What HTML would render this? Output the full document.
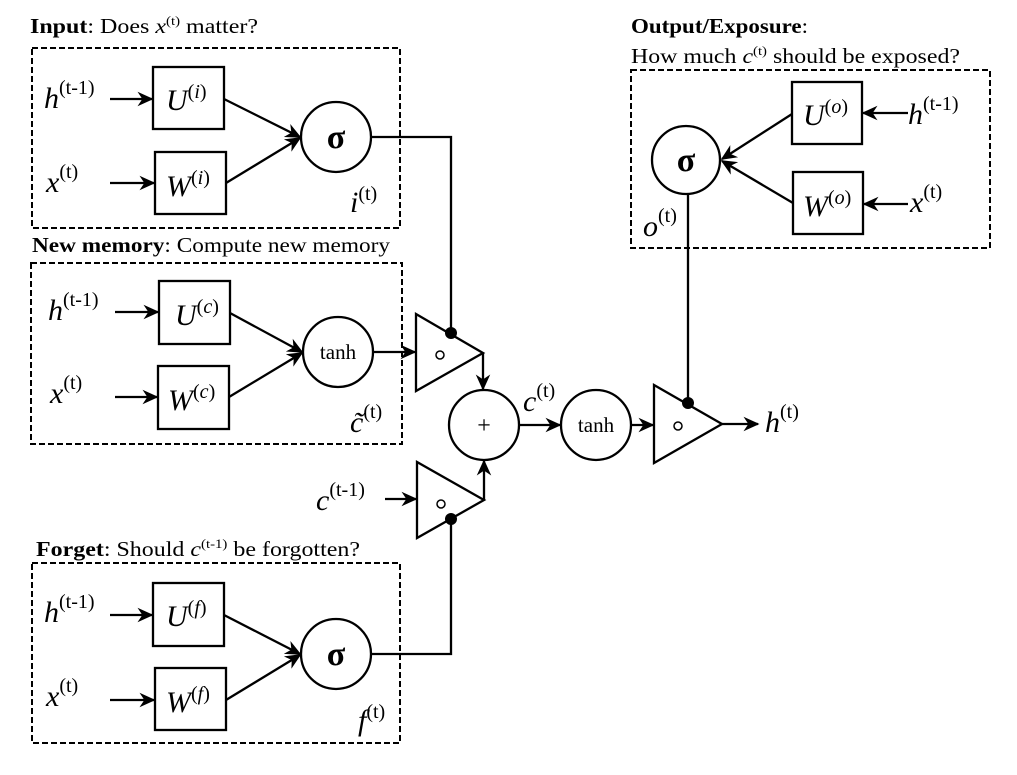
<!DOCTYPE html>
<html><head><meta charset="utf-8"><style>
body{margin:0;background:#fff}
svg{display:block}
text{font-family:"Liberation Serif",serif;fill:#000}
.m{font-style:italic}
</style></head><body>
<svg width="1017" height="775" viewBox="0 0 1017 775">
<defs>
<marker id="a" viewBox="0 0 10 10" refX="9" refY="5" markerWidth="7" markerHeight="7" orient="auto"><path d="M0,0.5 L10,5 L0,9.5 L3,5 z" fill="#000"/></marker>
</defs>
<g fill="none" stroke="#000" stroke-width="2.3">
<rect x="32" y="48" width="368" height="180" stroke-dasharray="6,3" stroke-width="2"/>
<rect x="31" y="263" width="371" height="181" stroke-dasharray="6,3" stroke-width="2"/>
<rect x="32" y="563" width="368" height="180" stroke-dasharray="6,3" stroke-width="2"/>
<rect x="631" y="70" width="359" height="178" stroke-dasharray="6,3" stroke-width="2"/>
<rect x="153" y="67" width="71" height="62"/>
<rect x="155" y="152" width="71" height="62"/>
<circle cx="336" cy="137" r="35"/>
<line x1="110" y1="99" x2="152" y2="99" marker-end="url(#a)"/>
<line x1="110" y1="183" x2="154" y2="183" marker-end="url(#a)"/>
<line x1="224" y1="99" x2="300" y2="137" marker-end="url(#a)"/>
<line x1="226" y1="183" x2="300" y2="138" marker-end="url(#a)"/>
<polyline points="371,137 451,137 451,333"/>
<rect x="159" y="281" width="71" height="63"/>
<rect x="158" y="366" width="71" height="63"/>
<circle cx="338" cy="352" r="35"/>
<line x1="115" y1="312" x2="158" y2="312" marker-end="url(#a)"/>
<line x1="115" y1="397" x2="157" y2="397" marker-end="url(#a)"/>
<line x1="230" y1="313" x2="302" y2="352" marker-end="url(#a)"/>
<line x1="229" y1="397" x2="302" y2="353" marker-end="url(#a)"/>
<line x1="373" y1="352" x2="415" y2="352" marker-end="url(#a)"/>
<rect x="153" y="583" width="71" height="63"/>
<rect x="155" y="668" width="71" height="62"/>
<circle cx="336" cy="654" r="35"/>
<line x1="110" y1="615" x2="152" y2="615" marker-end="url(#a)"/>
<line x1="110" y1="700" x2="154" y2="700" marker-end="url(#a)"/>
<line x1="224" y1="615" x2="300" y2="654" marker-end="url(#a)"/>
<line x1="226" y1="700" x2="300" y2="655" marker-end="url(#a)"/>
<polyline points="371,654 451,654 451,519"/>
<polygon points="416,314 416,391 483,353"/>
<polygon points="417,462 417,538 484,500"/>
<polygon points="654,385 654,463 722,424"/>
<circle cx="440" cy="355" r="4" stroke-width="1.5"/>
<circle cx="441" cy="504" r="4" stroke-width="1.5"/>
<circle cx="678" cy="426" r="4" stroke-width="1.5"/>
<line x1="483" y1="353" x2="483" y2="389" marker-end="url(#a)"/>
<line x1="484" y1="500" x2="484" y2="461" marker-end="url(#a)"/>
<line x1="385" y1="499" x2="416" y2="499" marker-end="url(#a)"/>
<circle cx="484" cy="425" r="35"/>
<line x1="519" y1="425" x2="560" y2="425" marker-end="url(#a)"/>
<circle cx="596" cy="425" r="35"/>
<line x1="631" y1="425" x2="653" y2="425" marker-end="url(#a)"/>
<line x1="722" y1="424" x2="758" y2="424" marker-end="url(#a)"/>
<rect x="792" y="82" width="70" height="62"/>
<rect x="793" y="172" width="70" height="62"/>
<circle cx="686" cy="160" r="34"/>
<line x1="908" y1="113" x2="863" y2="113" marker-end="url(#a)"/>
<line x1="908" y1="204" x2="864" y2="204" marker-end="url(#a)"/>
<line x1="792" y1="114" x2="722" y2="159" marker-end="url(#a)"/>
<line x1="793" y1="203" x2="722" y2="161" marker-end="url(#a)"/>
<line x1="688" y1="194" x2="688" y2="403"/>
</g>
<g fill="#000">
<circle cx="451" cy="333" r="6"/>
<circle cx="451" cy="519" r="6"/>
<circle cx="688" cy="403" r="6"/>
</g>
<text x="30" y="33" font-size="21" textLength="228" lengthAdjust="spacingAndGlyphs"><tspan font-weight="bold">Input</tspan>: Does <tspan class="m">x</tspan><tspan font-size="13" dy="-8">(t)</tspan><tspan dy="8"> matter?</tspan></text>
<text x="32" y="252" font-size="21" textLength="358" lengthAdjust="spacingAndGlyphs"><tspan font-weight="bold">New memory</tspan>: Compute new memory</text>
<text x="36" y="556" font-size="21" textLength="324" lengthAdjust="spacingAndGlyphs"><tspan font-weight="bold">Forget</tspan>: Should <tspan class="m">c</tspan><tspan font-size="13" dy="-8">(t-1)</tspan><tspan dy="8"> be forgotten?</tspan></text>
<text x="631" y="33" font-size="21" font-weight="bold" textLength="177" lengthAdjust="spacingAndGlyphs">Output/Exposure<tspan font-weight="normal">:</tspan></text>
<text x="631" y="63" font-size="21" textLength="329" lengthAdjust="spacingAndGlyphs">How much <tspan class="m">c</tspan><tspan font-size="13" dy="-8">(t)</tspan><tspan dy="8"> should be exposed?</tspan></text>
<g font-size="30">
<text x="44" y="108"><tspan class="m">h</tspan><tspan font-size="20" dy="-14">(t-1)</tspan></text>
<text x="46" y="192"><tspan class="m">x</tspan><tspan font-size="20" dy="-14">(t)</tspan></text>
<text x="166" y="110"><tspan class="m">U</tspan><tspan font-size="20" dy="-12">(<tspan class="m">i</tspan>)</tspan></text>
<text x="166" y="196"><tspan class="m">W</tspan><tspan font-size="20" dy="-12">(<tspan class="m">i</tspan>)</tspan></text>
<text x="350" y="212"><tspan class="m">i</tspan><tspan font-size="20" dy="-12">(t)</tspan></text>
<text x="48" y="320"><tspan class="m">h</tspan><tspan font-size="20" dy="-14">(t-1)</tspan></text>
<text x="50" y="403"><tspan class="m">x</tspan><tspan font-size="20" dy="-14">(t)</tspan></text>
<text x="175" y="325"><tspan class="m">U</tspan><tspan font-size="20" dy="-12">(<tspan class="m">c</tspan>)</tspan></text>
<text x="168" y="410"><tspan class="m">W</tspan><tspan font-size="20" dy="-12">(<tspan class="m">c</tspan>)</tspan></text>
<text x="350" y="432"><tspan class="m">c̃</tspan><tspan font-size="20" dy="-14">(t)</tspan></text>
<text x="44" y="622"><tspan class="m">h</tspan><tspan font-size="20" dy="-14">(t-1)</tspan></text>
<text x="46" y="706"><tspan class="m">x</tspan><tspan font-size="20" dy="-14">(t)</tspan></text>
<text x="166" y="626"><tspan class="m">U</tspan><tspan font-size="20" dy="-12">(<tspan class="m">f</tspan>)</tspan></text>
<text x="166" y="712"><tspan class="m">W</tspan><tspan font-size="20" dy="-12">(<tspan class="m">f</tspan>)</tspan></text>
<text x="358" y="730"><tspan class="m">f</tspan><tspan font-size="20" dy="-12">(t)</tspan></text>
<text x="316" y="510"><tspan class="m">c</tspan><tspan font-size="20" dy="-14">(t-1)</tspan></text>
<text x="523" y="411"><tspan class="m">c</tspan><tspan font-size="20" dy="-14">(t)</tspan></text>
<text x="765" y="432"><tspan class="m">h</tspan><tspan font-size="20" dy="-14">(t)</tspan></text>
<text x="803" y="125"><tspan class="m">U</tspan><tspan font-size="20" dy="-12">(<tspan class="m">o</tspan>)</tspan></text>
<text x="803" y="216"><tspan class="m">W</tspan><tspan font-size="20" dy="-12">(<tspan class="m">o</tspan>)</tspan></text>
<text x="908" y="124"><tspan class="m">h</tspan><tspan font-size="20" dy="-14">(t-1)</tspan></text>
<text x="910" y="212"><tspan class="m">x</tspan><tspan font-size="20" dy="-14">(t)</tspan></text>
<text x="643" y="236"><tspan class="m">o</tspan><tspan font-size="20" dy="-14">(t)</tspan></text>
</g>
<g font-size="34" font-weight="bold" text-anchor="middle">
<text x="336" y="148">σ</text>
<text x="336" y="665">σ</text>
<text x="686" y="171">σ</text>
</g>
<g font-size="21" text-anchor="middle">
<text x="338" y="359">tanh</text>
<text x="596" y="432">tanh</text>
<text x="484" y="433" font-size="24">+</text>
</g>
</svg>
</body></html>
